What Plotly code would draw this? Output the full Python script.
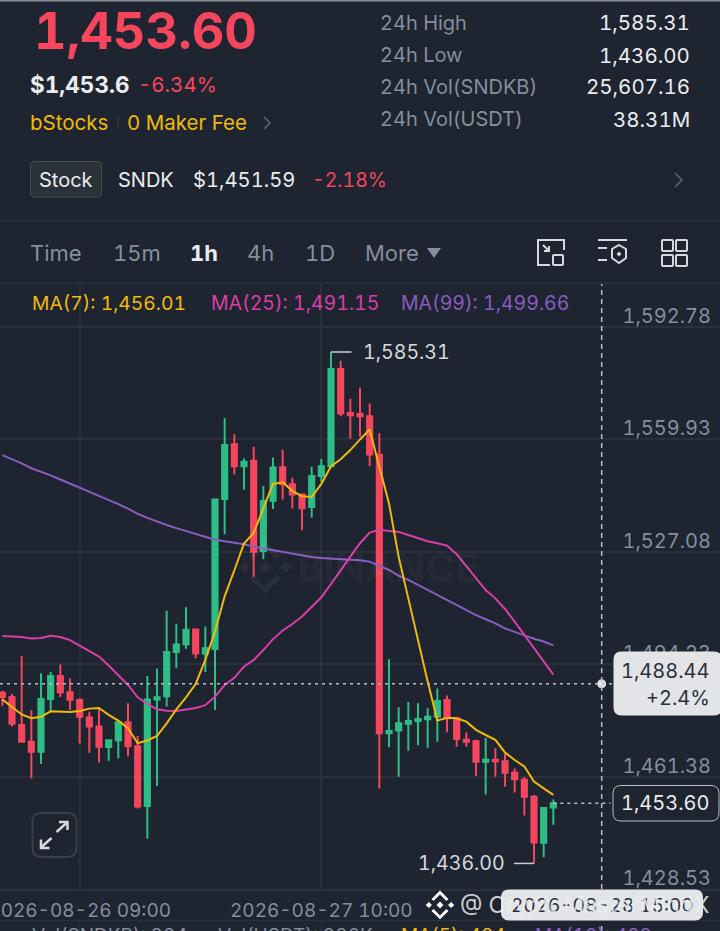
import pandas as pd
import plotly.graph_objects as go

W = 720
H = 931
BG = "#1E2430"
GRID = "#2A303B"
GRAY = "#848E9C"
WHITE = "#EAECEF"
RED = "#F6465D"
GREEN = "#2EBD85"
GOLD = "#F0B90B"
PINK = "#D93FA6"
PURPLE = "#8A5CC0"

opens = [1485.8, 1484.6, 1476.4, 1471.5, 1468.6, 1484.0, 1490.7, 1486.0, 1483.7, 1478.6,
         1476.0, 1470.0, 1472.0, 1477.2, 1470.2, 1452.8, 1483.9, 1484.8, 1497.7, 1500.0,
         1504.3, 1497.3, 1498.6, 1542.4, 1558.4, 1552.0, 1553.6, 1527.2, 1541.9, 1551.7,
         1546.7, 1543.7, 1540.1, 1549.1, 1552.0, 1580.4, 1567.5, 1567.2, 1566.6, 1555.3,
         1474.0, 1474.8, 1476.8, 1477.6, 1478.1, 1478.8, 1483.7, 1478.4, 1472.1, 1471.7,
         1465.7, 1466.3, 1465.8, 1462.5, 1460.4, 1455.5, 1442.0, 1452.3]
highs = [1486.4, 1485.5, 1496.6, 1480.7, 1491.5, 1491.9, 1494.1, 1490.0, 1484.2, 1480.3,
         1481.3, 1472.2, 1477.4, 1482.8, 1473.2, 1490.7, 1492.9, 1509.8, 1506.0, 1510.8,
         1504.5, 1505.2, 1542.5, 1566.0, 1561.3, 1554.2, 1557.7, 1546.2, 1554.5, 1556.8,
         1548.6, 1544.0, 1551.8, 1554.1, 1585.31, 1582.8, 1571.7, 1575.0, 1570.3, 1561.7,
         1495.6, 1481.6, 1483.1, 1482.8, 1481.3, 1487.1, 1485.0, 1478.7, 1474.2, 1472.1,
         1472.6, 1469.6, 1468.0, 1463.7, 1461.2, 1456.0, 1452.3, 1454.7]
lows = [1482.0, 1476.0, 1471.3, 1460.8, 1465.0, 1480.6, 1484.6, 1480.8, 1471.0, 1468.3,
        1465.5, 1466.0, 1466.6, 1467.2, 1452.0, 1443.2, 1458.6, 1481.8, 1493.0, 1498.7,
        1495.8, 1491.9, 1480.8, 1532.1, 1549.6, 1545.2, 1519.7, 1524.8, 1539.5, 1542.3,
        1539.6, 1533.3, 1537.0, 1547.4, 1551.9, 1566.6, 1560.0, 1560.6, 1552.0, 1457.9,
        1469.9, 1461.3, 1468.9, 1470.5, 1469.8, 1471.5, 1474.3, 1470.1, 1470.1, 1461.5,
        1456.1, 1461.3, 1458.4, 1456.7, 1450.0, 1436.0, 1437.8, 1447.3]
closes = [1484.6, 1476.8, 1471.5, 1468.6, 1484.0, 1490.7, 1486.0, 1483.8, 1478.8, 1476.0,
          1470.1, 1472.0, 1477.2, 1470.2, 1452.6, 1483.9, 1484.5, 1497.7, 1499.9, 1504.2,
          1497.3, 1498.8, 1542.3, 1558.2, 1552.0, 1553.3, 1527.0, 1541.8, 1551.6, 1546.7,
          1543.7, 1539.7, 1549.1, 1552.0, 1580.4, 1567.4, 1566.9, 1566.6, 1555.4, 1474.0,
          1474.7, 1476.9, 1477.6, 1478.2, 1478.8, 1483.4, 1478.4, 1472.3, 1471.5, 1465.7,
          1466.3, 1465.8, 1462.5, 1460.6, 1455.5, 1442.1, 1452.2, 1453.6]

ma7 = [1483.9, 1481.8, 1479.5, 1478.4, 1478.8, 1480.4, 1480.4, 1480.2, 1480.5, 1481.2,
       1481.4, 1479.4, 1477.7, 1475.5, 1471.1, 1471.9, 1473.2, 1476.9, 1481.0, 1484.5,
       1488.4, 1495.4, 1503.7, 1514.0, 1521.6, 1529.4, 1532.5, 1539.6, 1546.8, 1547.3,
       1544.8, 1543.2, 1543.0, 1546.8, 1552.0, 1554.0, 1556.7, 1559.8, 1562.7, 1551.8,
       1541.1, 1525.5, 1512.9, 1501.2, 1489.1, 1477.7, 1478.5, 1478.4, 1477.4, 1475.0,
       1473.5, 1472.1, 1468.4, 1466.2, 1464.3, 1459.9, 1457.9, 1456.01]
ma25 = [1502.4, 1502.3, 1502.1, 1501.7, 1501.8, 1502.5, 1502.1, 1501.2, 1499.6, 1498.0,
        1496.4, 1493.8, 1491.0, 1488.1, 1484.5, 1482.6, 1481.0, 1480.6, 1480.5, 1481.0,
        1481.4, 1482.2, 1484.7, 1488.1, 1490.2, 1493.5, 1495.4, 1498.3, 1501.5, 1504.0,
        1505.9, 1508.1, 1510.8, 1513.7, 1517.6, 1521.7, 1525.6, 1529.5, 1532.6, 1533.4,
        1533.2, 1532.8, 1531.9, 1531.0, 1530.1, 1529.5, 1528.8, 1526.3, 1522.7, 1519.2,
        1515.8, 1513.4, 1510.3, 1506.6, 1502.7, 1498.8, 1494.9, 1491.15]
ma99 = [1555.2, 1554.1, 1552.8, 1551.4, 1550.4, 1549.3, 1548.1, 1546.9, 1545.9, 1544.6,
        1543.3, 1542.2, 1540.9, 1539.6, 1538.1, 1536.9, 1535.8, 1534.8, 1533.9, 1533.0,
        1532.2, 1531.2, 1530.5, 1530.1, 1529.7, 1529.2, 1528.5, 1528.0, 1527.5, 1526.9,
        1526.4, 1526.0, 1525.5, 1525.2, 1525.1, 1524.9, 1524.7, 1524.5, 1524.1, 1522.8,
        1521.7, 1520.0, 1518.8, 1517.3, 1515.8, 1514.4, 1512.9, 1511.5, 1510.0, 1508.5,
        1507.3, 1506.1, 1504.6, 1503.5, 1502.6, 1501.6, 1500.8, 1499.66]

y_ticks = [1592.78, 1559.93, 1527.08, 1494.23, 1461.38, 1428.53]
x_ticks = ["2026-08-26 09:00", "2026-08-27 10:00"]
stats_names = ["24h High", "24h Low", "24h Vol(SNDKB)", "24h Vol(USDT)"]
stats_values = ["1,585.31", "1,436.00", "25,607.16", "38.31M"]

times = pd.date_range("2026-08-26 01:00", periods=len(closes), freq="h")
crosshair_time = pd.Timestamp("2026-08-28 15:00")
crosshair_price = 1488.44
last_price = 1453.60


def px(x):
    return x / W


def py(y):
    return 1 - y / H


def tnum(s):
    # tabular digits, the app's numbers all line up
    return "<span style=\"font-feature-settings:'tnum'\">" + s + "</span>"


def text(x, y, s, color=WHITE, size=20, anchor="left", bold=False, font="Inter"):
    if bold:
        s = "<b>" + s + "</b>"
    anns.append(dict(x=px(x), y=py(y), xref="paper", yref="paper", text=tnum(s), showarrow=False,
                     xanchor=anchor, yanchor="middle", borderpad=0, borderwidth=0,
                     font=dict(color=color, size=size, family=font)))


def path(points, color, width=2, close=False, fill=None):
    d = "M " + " L ".join("%.5f %.5f" % (px(a), py(b)) for a, b in points)
    if close:
        d += " Z"
    shapes.append(dict(type="path", xref="paper", yref="paper", path=d, layer="above",
                       line=dict(color=color, width=width), fillcolor=fill))


def round_box(x0, y0, x1, y1, r, color=None, fill=None, width=1):
    # rounded box, pixel corners go through px/py
    c = "%.5f %.5f"
    d = "M " + c % (px(x0 + r), py(y0))
    d += " L " + c % (px(x1 - r), py(y0)) + " Q " + c % (px(x1), py(y0)) + " " + c % (px(x1), py(y0 + r))
    d += " L " + c % (px(x1), py(y1 - r)) + " Q " + c % (px(x1), py(y1)) + " " + c % (px(x1 - r), py(y1))
    d += " L " + c % (px(x0 + r), py(y1)) + " Q " + c % (px(x0), py(y1)) + " " + c % (px(x0), py(y1 - r))
    d += " L " + c % (px(x0), py(y0 + r)) + " Q " + c % (px(x0), py(y0)) + " " + c % (px(x0 + r), py(y0)) + " Z"
    shapes.append(dict(type="path", xref="paper", yref="paper", path=d, layer="above",
                       fillcolor=fill, line=dict(color=color or "rgba(0,0,0,0)", width=width)))


def diamond(cx, cy, r, color):
    path([(cx - r, cy), (cx, cy - r), (cx + r, cy), (cx, cy + r)], color, width=0, close=True, fill=color)


def logo(cx, cy, s, color):
    # exchange mark: centre and side diamonds, chevrons top and bottom
    diamond(cx, cy, 5.5 * s, color)
    diamond(cx - 18 * s, cy, 5 * s, color)
    diamond(cx + 18 * s, cy, 5 * s, color)
    path([(cx - 12 * s, cy - 8 * s), (cx, cy - 20 * s), (cx + 12 * s, cy - 8 * s)], color, 4.5 * s)
    path([(cx - 12 * s, cy + 8 * s), (cx, cy + 20 * s), (cx + 12 * s, cy + 8 * s)], color, 4.5 * s)


anns = []
shapes = []

# top strip + separators
shapes.append(dict(type="rect", xref="paper", yref="paper", x0=0, x1=1, y0=py(1.5), y1=1,
                   fillcolor="#8A8F98", line=dict(width=0), layer="above"))
path([(0, 221), (W, 221)], GRID, 1.5)
path([(0, 283), (W, 283)], GRID, 1.5)
path([(0, 920.5), (W, 920.5)], GRID, 1.5)
path([(79.5, 921), (79.5, H)], GRID, 1.5)
path([(321.5, 921), (321.5, H)], GRID, 1.5)

# header
text(34, 30, "1,453.60", RED, 50.5, bold=True)
text(30, 85, "$1,453.6", WHITE, 22.5, bold=True)
text(138, 85, "-6.34%", RED, 20.5)
text(30, 122, "bStocks", GOLD, 20.5)
path([(118, 116), (118, 128)], "#3A404B", 1)
text(127, 122, "0 Maker Fee", GOLD, 20.5)
path([(264, 117), (270, 123), (264, 129)], "#5E6673", 1.5)

for i in range(4):
    text(380, 23 + 32 * i, stats_names[i], GRAY, 20)
    text(690, 23 + 32 * i, stats_values[i], WHITE, 20.5, anchor="right")

round_box(30.5, 161.5, 101.5, 197, 4, color="#474D57", fill="#2B3139")
text(66, 180, "Stock", WHITE, 20, anchor="center")
text(118, 180, "SNDK", WHITE, 20)
text(193, 180, "$1,451.59", WHITE, 20.2)
text(312, 180, "-2.18%", RED, 19.5)
path([(675, 173), (682, 180), (675, 187)], "#5E6673", 1.5)

# interval tabs
text(30, 253, "Time", GRAY, 22)
text(113, 253, "15m", GRAY, 22)
text(190, 253, "1h", WHITE, 22, bold=True)
text(247, 253, "4h", GRAY, 22)
text(305, 253, "1D", GRAY, 22)
text(365, 253, "More", GRAY, 22)
path([(427, 248), (441, 248), (434, 258)], GRAY, 0, close=True, fill=GRAY)

# toolbar icons
ICON = "#D5D8DD"
path([(551, 240), (538, 240), (538, 265), (550, 265)], ICON, 2)
path([(551, 240), (564, 240), (564, 250)], ICON, 2)
round_box(553, 255, 563, 265, 1, color=ICON, width=2)
path([(543, 245), (549, 251)], ICON, 2)
path([(549, 246), (549, 251), (544, 251)], ICON, 2)
path([(598, 240), (627, 240)], ICON, 2)
path([(598, 248), (607, 248)], ICON, 2)
path([(598, 260), (607, 260)], ICON, 2)
path([(619, 245), (626, 249), (626, 258), (619, 263), (612, 258), (612, 249)], ICON, 2, close=True)
diamond(619, 254, 2.5, ICON)
for bx in (662, 676):
    for by in (240, 255):
        round_box(bx, by, bx + 11, by + 11, 1, color=ICON, width=2)

# MA legend
text(32, 303, "MA(7): 1,456.01", GOLD, 19.3)
text(211, 303, "MA(25): 1,491.15", PINK, 19.5)
text(401, 303, "MA(99): 1,499.66", PURPLE, 19.5)

# background watermark
WM = "rgba(255,255,255,0.05)"
logo(265, 567, 1.15, WM)
text(297, 567, "BINANCE", WM, 40, bold=True)

# high / low callouts
shapes.append(dict(type="line", xref="x", yref="y", x0=times[34], x1=pd.Timestamp("2026-08-27 13:07"),
                   y0=highs[34], y1=highs[34], line=dict(color="#C8CCD2", width=1.5), layer="above"))
text(363, 352, "1,585.31", "#D5D8DD", 19.6)
shapes.append(dict(type="line", xref="x", yref="y", x0=pd.Timestamp("2026-08-28 05:55"), x1=times[55],
                   y0=lows[55], y1=lows[55], line=dict(color="#C8CCD2", width=1.5), layer="above"))
text(418, 863, "1,436.00", "#D5D8DD", 19.6)

# crosshair + last price line
DASH = "#B7BDC6"
shapes.append(dict(type="line", xref="paper", yref="y", x0=0, x1=px(612), y0=crosshair_price, y1=crosshair_price,
                   line=dict(color=DASH, width=1.5, dash="3px,4px"), layer="above"))
shapes.append(dict(type="line", xref="x", yref="paper", x0=crosshair_time, x1=crosshair_time, y0=py(889), y1=py(284),
                   line=dict(color=DASH, width=1.5, dash="5px,4px"), layer="above"))
shapes.append(dict(type="line", xref="x", yref="paper", x0=crosshair_time, x1=crosshair_time, y0=0, y1=py(924),
                   line=dict(color=DASH, width=1.5, dash="5px,4px"), layer="above"))
shapes.append(dict(type="line", xref="x", yref="y", x0=times[57], x1=pd.Timestamp("2026-08-28 15:55"),
                   y0=last_price, y1=last_price, line=dict(color=DASH, width=1.5, dash="3px,4px"), layer="above"))

# price boxes
round_box(613.5, 651.5, 722, 715.5, 8, fill="#E2E4E8")
text(710, 671, "1,488.44", "#2B3139", 20, anchor="right")
text(710, 698, "+2.4%", "#2B3139", 20, anchor="right")
round_box(613, 785.5, 719, 821, 8, color="#B7BDC6", fill=BG)
text(710, 803, "1,453.60", WHITE, 20, anchor="right")

# expand button
round_box(32.5, 813, 76.5, 857, 9, color="#3A404B", width=2)
path([(56.5, 832), (67, 822.5)], ICON, 2.5)
path([(59, 822), (67.5, 822), (67.5, 830)], ICON, 2.5)
path([(51.5, 838), (41, 847.5)], ICON, 2.5)
path([(41, 839.5), (41, 848), (49.5, 848)], ICON, 2.5)

# time label and reposted watermark over it
round_box(501, 889.5, 703, 920.5, 8, fill="#E2E4E8")
text(602, 905, "2026-08-28 15:00", "#2B3139", 19, anchor="center")
logo(440, 905, 0.62, "#FFFFFF")
text(460, 905, "@ CryptoMasterMindX", "rgba(235,237,240,0.85)", 23.2)

# volume legend, mostly cut off by the page edge
text(32, 935, "Vol(SNDKB): 884", GRAY, 19)
text(218, 935, "Vol(USDT): 386K", GRAY, 19)
text(401, 935, "MA(5): 484", GOLD, 19)
text(535, 935, "MA(10): 489", PURPLE, 19)

fig = go.Figure()
fig.add_trace(go.Candlestick(x=times, open=opens, high=highs, low=lows, close=closes,
                             increasing=dict(line=dict(color=GREEN, width=2), fillcolor=GREEN),
                             decreasing=dict(line=dict(color=RED, width=2), fillcolor=RED),
                             whiskerwidth=0, showlegend=False))
fig.add_trace(go.Scatter(x=times, y=ma99, mode="lines", line=dict(color=PURPLE, width=2), showlegend=False))
fig.add_trace(go.Scatter(x=times, y=ma25, mode="lines", line=dict(color=PINK, width=2), showlegend=False))
fig.add_trace(go.Scatter(x=times, y=ma7, mode="lines", line=dict(color=GOLD, width=2), showlegend=False))
fig.add_trace(go.Scatter(x=[crosshair_time], y=[crosshair_price], mode="markers",
                         marker=dict(color="#E2E4E8", size=9), showlegend=False))

px_per_hour = 9.667
first_x = 2.33
x_start = times[0] - pd.Timedelta(hours=first_x / px_per_hour)
x_end = times[0] + pd.Timedelta(hours=(W - first_x) / px_per_hour)
px_per_unit = (776.5 - 326.5) / (1592.78 - 1461.38)
y_top = 1592.78 + (326.5 - 283.5) / px_per_unit
y_bot = 1592.78 - (889 - 326.5) / px_per_unit

layout = dict(
    width=W, height=H, margin=dict(l=0, r=0, t=0, b=0), autosize=False,
    paper_bgcolor=BG, plot_bgcolor=BG, hovermode=False, boxgap=0.24,
    font=dict(family="Inter", color=GRAY, size=20),
    xaxis=dict(domain=[0, 1], range=[x_start, x_end], rangeslider=dict(visible=False), automargin=False,
               tickvals=x_ticks, ticktext=[tnum(v) for v in x_ticks], ticks="",
               showgrid=True, gridcolor=GRID, gridwidth=1.5,
               zeroline=False, showline=True, linecolor=GRID, linewidth=1.5, ticklabeloverflow="allow",
               tickfont=dict(color=GRAY, size=19, family="Inter"), ticklabelstandoff=3, anchor="y"),
    yaxis=dict(domain=[py(889), py(283.5)], range=[y_bot, y_top], side="right", ticklabelposition="inside",
               automargin=False, tickvals=y_ticks, ticktext=[tnum("{:,.2f}".format(v)) for v in y_ticks], ticks="",
               showgrid=True, gridcolor=GRID, gridwidth=1.5, zeroline=False, showline=False,
               ticklabeloverflow="allow",
               tickfont=dict(color=GRAY, size=20, family="Inter"), ticklabelshift=-11, ticklabelstandoff=6, anchor="x"),
    shapes=shapes, annotations=anns,
)
fig.update_layout(**layout)

fig.write_html("out.html", config=dict(displayModeBar=False),
               post_script="document.body.style.margin='0';document.body.style.background='%s';" % BG)
